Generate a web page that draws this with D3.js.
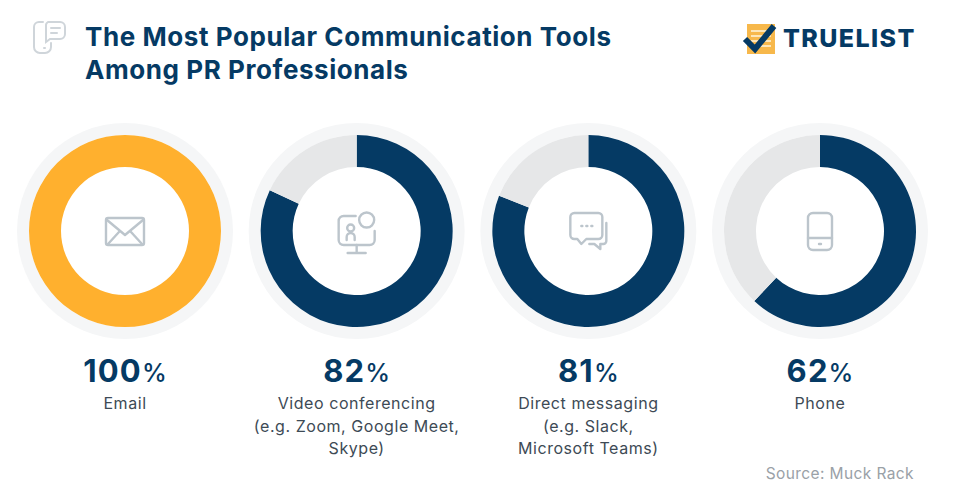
<!DOCTYPE html>
<html>
<head>
<meta charset="utf-8">
<script src="https://cdn.jsdelivr.net/npm/d3@7"></script>
<style>
  html, body { margin: 0; padding: 0; background: #fff; }
  svg { display: block; }
  text { font-family: Inter, "Open Sans", sans-serif; }
</style>
</head>
<body>
<svg id="chart" width="980" height="497"></svg>
<script>
const categories = ["Email", "Video conferencing", "Direct messaging", "Phone"]
const values = [100, 82, 81, 62]
const labelLines = [
  ["Email"],
  ["Video conferencing", "(e.g. Zoom, Google Meet,", "Skype)"],
  ["Direct messaging", "(e.g. Slack,", "Microsoft Teams)"],
  ["Phone"]
]
const titleLines = ["The Most Popular Communication Tools", "Among PR Professionals"]
const source = "Source: Muck Rack"

const navy = "#053a64"
const orange = "#ffb02e"
const track = "#e6e7e8"
const halo = "#f5f6f7"
const iconColor = "#bcc5cc"
const textColor = "#3d4a55"

const svg = d3.select("#chart")

const x = d3.scalePoint().domain(categories).range([125, 820])
const cy = 231
const pie = d3.pie().sort(null)
const arc = d3.arc().innerRadius(64).outerRadius(96)

// title
svg.selectAll(".title")
  .data(titleLines)
  .enter()
  .append("text")
    .attr("class", "title")
    .attr("x", 85)
    .attr("y", (d, i) => 46 + i * 33)
    .attr("fill", navy)
    .attr("font-size", 26)
    .attr("font-weight", 700)
    .attr("letter-spacing", 0.57)
    .text(d => d)

// donuts
const groups = svg.selectAll(".donut")
  .data(categories)
  .enter()
  .append("g")
    .attr("class", "donut")
    .attr("transform", d => `translate(${x(d)},${cy})`)

groups.append("circle")
  .attr("r", 108)
  .attr("fill", halo)
groups.append("circle")
  .attr("r", 96)
  .attr("fill", "#fff")

groups.selectAll("path.slice")
  .data((d, i) => pie([values[i], 100 - values[i]]).map(s => ({ ...s, full: values[i] === 100 })))
  .enter()
  .append("path")
    .attr("class", "slice")
    .attr("d", arc)
    .attr("fill", (d, i) => i === 1 ? track : (d.full ? orange : navy))

// value labels
const valueText = groups.append("text")
  .attr("y", 151)
  .attr("text-anchor", "middle")
  .attr("fill", navy)
  .attr("font-weight", 700)
valueText.append("tspan")
  .attr("font-size", 31)
  .attr("letter-spacing", 1.2)
  .text((d, i) => values[i])
valueText.append("tspan")
  .attr("font-size", 25)
  .attr("font-weight", 500)
  .text("%")

// category labels
groups.each(function (d, i) {
  d3.select(this).selectAll(".label")
    .data(labelLines[i])
    .enter()
    .append("text")
      .attr("class", "label")
      .attr("y", (l, j) => 178 + j * 22.5)
      .attr("text-anchor", "middle")
      .attr("fill", textColor)
      .attr("font-size", 16)
      .attr("letter-spacing", 0.55)
      .text(l => l)
})

// source
svg.append("text")
  .attr("x", 914)
  .attr("y", 479)
  .attr("text-anchor", "end")
  .attr("fill", "#9aa1a7")
  .attr("font-size", 15.5)
  .attr("letter-spacing", 0.4)
  .text(source)

// icons, drawn around each donut centre
const icons = [
  ["M-17,-13 h34 a2,2 0 0 1 2,2 v23 a2,2 0 0 1 -2,2 h-34 a2,2 0 0 1 -2,-2 v-23 a2,2 0 0 1 2,-2 z",
   "M-18,-11 L0,4 L18,-11", "M-17,13 L-6,1", "M17,13 L6,1"],
  ["M-1,-15 H-13 a5,5 0 0 0 -5,5 V9 a5,5 0 0 0 5,5 H13 a5,5 0 0 0 5,-5 V0",
   "M0,14 V21", "M-9,22 H9", "M-10,9 v-3 a4,4 0 0 1 8,0 v3",
   "M-6,-3 m-3.5,0 a3.5,3.5 0 1 0 7,0 a3.5,3.5 0 1 0 -7,0",
   "M10,-11 m-7.5,0 a7.5,7.5 0 1 0 15,0 a7.5,7.5 0 1 0 -15,0"],
  ["M-14,-18 H10 a4,4 0 0 1 4,4 V4 a4,4 0 0 1 -4,4 H-2 L-7,13 L-11,8 H-14 a4,4 0 0 1 -4,-4 V-14 a4,4 0 0 1 4,-4 z",
   "M18,-8 V10 a3,3 0 0 1 -3,3 H12 L12,18 L6,13 H1",
   "M-7,-5 h1", "M-2,-5 h1", "M3,-5 h1"],
  ["M-7,-18 H7 a5,5 0 0 1 5,5 V14 a5,5 0 0 1 -5,5 H-7 a5,5 0 0 1 -5,-5 V-13 a5,5 0 0 1 5,-5 z",
   "M-12,7 H12", "M-1,13 h2"]
]
groups.each(function (d, i) {
  d3.select(this).selectAll(".icon")
    .data(icons[i])
    .enter()
    .append("path")
      .attr("class", "icon")
      .attr("d", p => p)
      .attr("fill", "none")
      .attr("stroke", iconColor)
      .attr("stroke-width", 2.4)
      .attr("stroke-linecap", "round")
      .attr("stroke-linejoin", "round")
})

// corner icon
svg.append("g")
  .attr("transform", "translate(33,21)")
  .selectAll("path")
  .data([
    "M10,1 H6 a5,5 0 0 0 -5,5 V26 a6,6 0 0 0 6,6 H12 a6,6 0 0 0 6,-6 V22",
    "M15,1 H27 a5,5 0 0 1 5,5 V13 a5,5 0 0 1 -5,5 H17 L13,21 V5 a4,4 0 0 1 2,-4 z",
    "M18,7 H27", "M18,12 H24", "M11,27 h1"
  ])
  .enter()
  .append("path")
    .attr("d", d => d)
    .attr("fill", "none")
    .attr("stroke", "#cfd5da")
    .attr("stroke-width", 2)
    .attr("stroke-linecap", "round")

// logo
const logo = svg.append("g").attr("transform", "translate(744,23)")
logo.append("rect")
  .attr("x", 3).attr("y", 1)
  .attr("width", 28).attr("height", 30)
  .attr("fill", "#f7b84b")
logo.selectAll(".rule")
  .data([7, 12, 17, 22])
  .enter()
  .append("rect")
    .attr("class", "rule")
    .attr("x", 7).attr("y", d => d)
    .attr("width", 20).attr("height", 2)
    .attr("fill", "#fde6b8")
logo.append("path")
  .attr("d", "M1,16 L11,26 L30,3")
  .attr("fill", "none")
  .attr("stroke", navy)
  .attr("stroke-width", 6)
svg.append("text")
  .attr("x", 783)
  .attr("y", 47)
  .attr("fill", navy)
  .attr("font-size", 25)
  .attr("font-weight", 800)
  .attr("letter-spacing", 1.4)
  .text("TRUELIST")
</script>
</body>
</html>
